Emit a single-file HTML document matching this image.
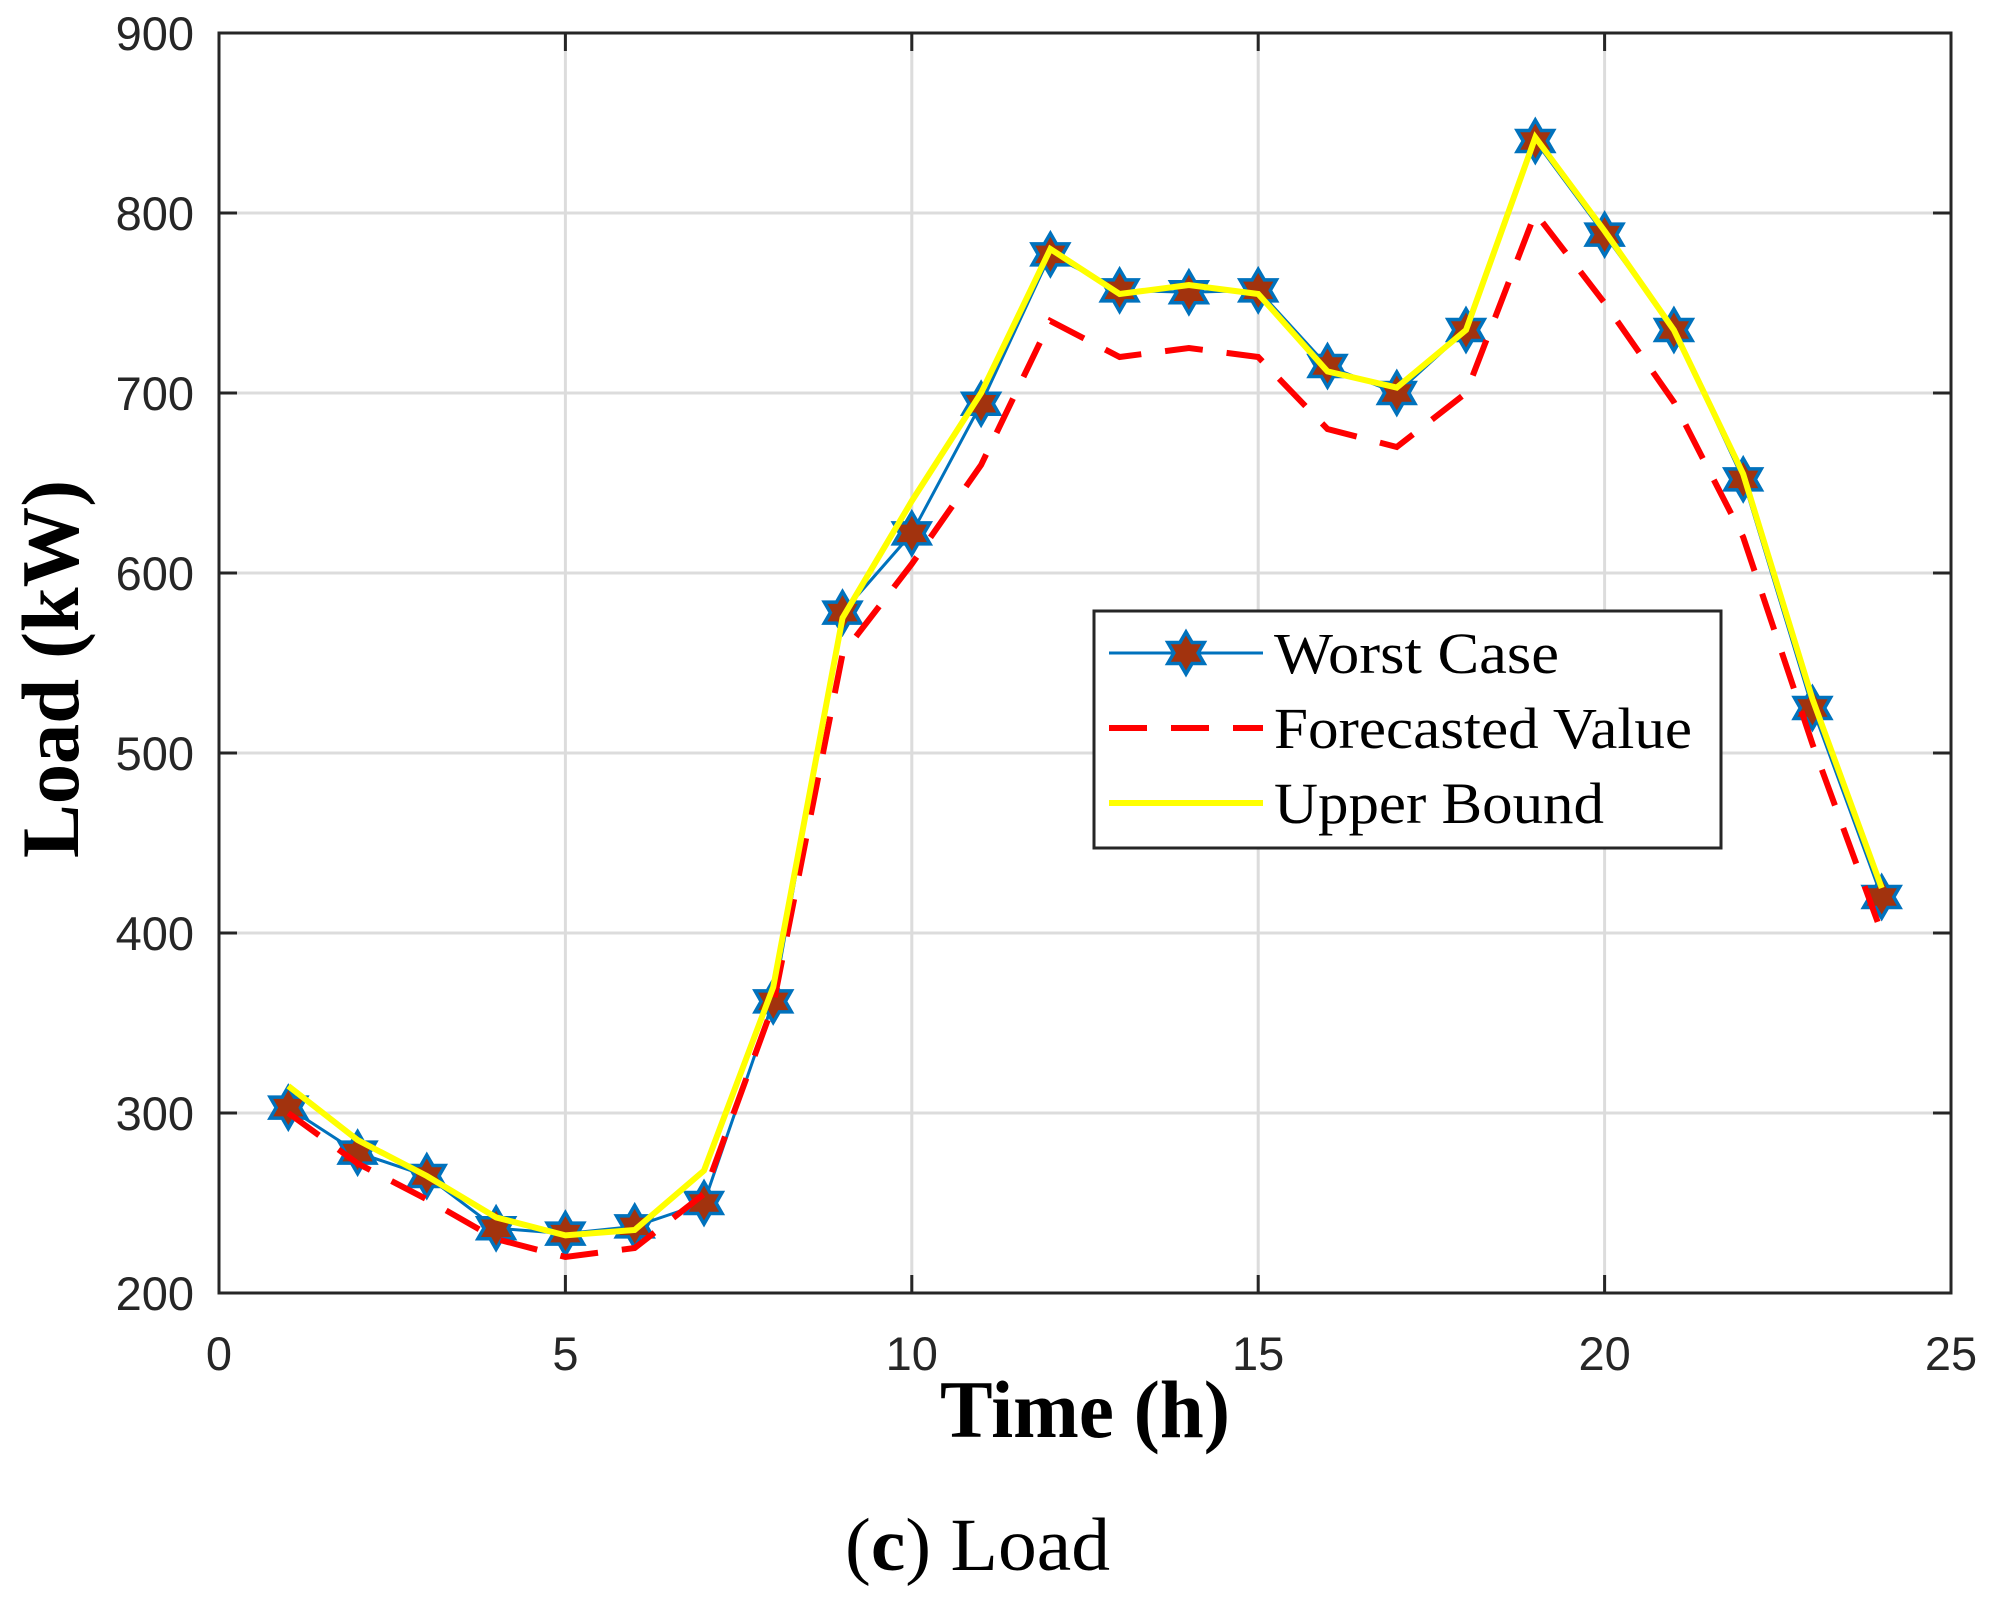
<!DOCTYPE html>
<html><head><meta charset="utf-8"><style>html,body{margin:0;padding:0;background:#fff}svg{display:block}</style></head>
<body>
<svg id="s" width="1997" height="1597" xmlns="http://www.w3.org/2000/svg">
<rect width="1997" height="1597" fill="#fff"/>
<g id="grid" stroke="#dcdcdc" stroke-width="3"></g>
<g id="ticks" stroke="#262626" stroke-width="3"></g>
<g id="data"></g>
<rect x="219" y="33" width="1732" height="1260" fill="none" stroke="#262626" stroke-width="3"/>
<g id="labels" font-family="Liberation Sans, Arial, sans-serif" font-size="47" fill="#262626"></g>
<text x="1085" y="1437" font-family="Liberation Serif, serif" font-weight="bold" font-size="82" text-anchor="middle" textLength="290" lengthAdjust="spacingAndGlyphs">Time (h)</text>
<text transform="translate(78,669) rotate(-90)" font-family="Liberation Serif, serif" font-weight="bold" font-size="82" text-anchor="middle" textLength="378" lengthAdjust="spacingAndGlyphs">Load (kW)</text>
<text x="845" y="1570" font-family="Liberation Serif, serif" font-size="75" textLength="265" lengthAdjust="spacingAndGlyphs">(<tspan font-weight="bold">c</tspan>) Load</text>
<g id="legend">
<rect x="1094" y="611" width="627" height="237" fill="#fff" stroke="#262626" stroke-width="3"/>
<line x1="1109" y1="653" x2="1263" y2="653" stroke="#0072BD" stroke-width="3"/>
<line x1="1109" y1="728" x2="1263" y2="728" stroke="#ff0000" stroke-width="6" stroke-dasharray="38,24"/>
<line x1="1109" y1="803" x2="1263" y2="803" stroke="#ffff00" stroke-width="6"/>
<g font-family="Liberation Serif, serif" font-size="58" fill="#000">
<text x="1274" y="673" textLength="285" lengthAdjust="spacingAndGlyphs">Worst Case</text>
<text x="1274" y="748" textLength="418" lengthAdjust="spacingAndGlyphs">Forecasted Value</text>
<text x="1274" y="823" textLength="330" lengthAdjust="spacingAndGlyphs">Upper Bound</text>
</g>
</g>
</svg>
<script>
const NS="http://www.w3.org/2000/svg";
const X=t=>219+69.28*t, Y=v=>33+(900-v)*1.8;
function el(p,n,a,txt){const e=document.createElementNS(NS,n);for(const k in a)e.setAttribute(k,a[k]);if(txt!==undefined)e.textContent=txt;document.getElementById(p).appendChild(e);return e;}
for(let t=5;t<25;t+=5){el('grid','line',{x1:X(t),y1:33,x2:X(t),y2:1293});}
for(let v=300;v<900;v+=100){el('grid','line',{x1:219,y1:Y(v),x2:1951,y2:Y(v)});}
for(let t=0;t<=25;t+=5){el('ticks','line',{x1:X(t),y1:1293,x2:X(t),y2:1275});el('ticks','line',{x1:X(t),y1:33,x2:X(t),y2:51});
 el('labels','text',{x:X(t),y:1370,'text-anchor':'middle'},String(t));}
for(let v=200;v<=900;v+=100){el('ticks','line',{x1:219,y1:Y(v),x2:237,y2:Y(v)});el('ticks','line',{x1:1951,y1:Y(v),x2:1933,y2:Y(v)});
 el('labels','text',{x:194,y:Y(v)+17,'text-anchor':'end'},String(v));}
const W=[303,278,265,236,233,237,250,362,578,622,694,777,757,756,757,715,700,735,840,788,735,652,525,420];
const F=[300,272,252,230,220,225,255,360,555,605,660,740,720,725,720,680,670,700,800,750,695,620,505,400];
const U=[315,285,265,242,232,235,268,370,575,640,700,780,755,760,755,712,703,735,842,790,735,655,530,425];
const pts=a=>a.map((v,i)=>X(i+1)+","+Y(v)).join(" ");
el('data','polyline',{points:pts(W),fill:'none',stroke:'#0072BD','stroke-width':3});
function star(cx,cy,R){let d="";for(let k=0;k<12;k++){const r=(k%2==0)?R:R*0.577;const a=(-90+30*k)*Math.PI/180;d+=(k?"L":"M")+(cx+r*Math.cos(a)).toFixed(1)+","+(cy+r*Math.sin(a)).toFixed(1);}return d+"Z";}
function drawStar(p,cx,cy){el(p,'path',{d:star(cx,cy,21),fill:'#A2330E',stroke:'#0072BD','stroke-width':3.5,'stroke-linejoin':'miter'});}
W.forEach((v,i)=>drawStar('data',X(i+1),Y(v)));
el('data','polyline',{points:pts(F),fill:'none',stroke:'#ff0000','stroke-width':6,'stroke-dasharray':'38,24'});
el('data','polyline',{points:pts(U),fill:'none',stroke:'#ffff00','stroke-width':6});
drawStar('legend',1186,653);
</script>
</body></html>
